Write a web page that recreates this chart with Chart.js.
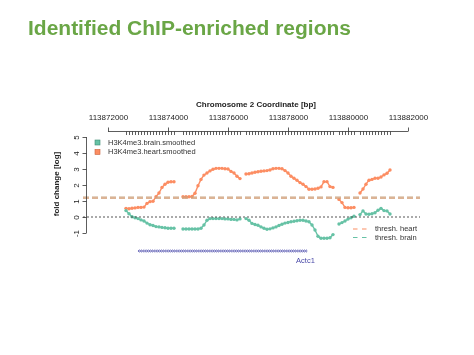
<!DOCTYPE html>
<html><head><meta charset="utf-8">
<script src="https://cdn.jsdelivr.net/npm/chart.js@4/dist/chart.umd.min.js"></script>
<style>html,body{margin:0;padding:0;background:#fff;}</style>
</head><body>
<canvas id="c" width="474" height="355"></canvas>
<script>
// ---- data ----
const chartTitle = "Identified ChIP-enriched regions";
const xAxisTitle = "Chromosome 2 Coordinate [bp]";
const yAxisTitle = "fold change [log]";
const xTicks = [113872000, 113874000, 113876000, 113878000, 113880000, 113882000];
const yTicks = [-1, 0, 1, 2, 3, 4, 5];
const seriesLabels = ["H3K4me3.brain.smoothed", "H3K4me3.heart.smoothed"];
const threshLabels = ["thresh. heart", "thresh. brain"];
const threshHeart = 1.2;
const threshBrain = 1.2;
const geneName = "Actc1";
const geneStart = 113873000;
const geneEnd = 113878650;

// probe positions (bp); null values mark breaks between enriched segments
const positions = [
  113872600,113872700,113872800,113872900,113873000,113873100,113873200,113873300,113873400,113873500,113873600,113873700,113873800,113873900,113874000,113874100,113874200,
  113874350,
  113874500,113874600,113874700,113874800,113874900,113875000,113875100,113875200,113875300,113875400,113875500,113875600,113875700,113875800,113875900,113876000,113876100,113876200,113876300,113876400,
  113876500,
  113876600,113876700,113876800,113876900,113877000,113877100,113877200,113877300,113877400,113877500,113877600,113877700,113877800,113877900,113878000,113878100,113878200,113878300,113878400,113878500,113878600,113878700,113878800,113878900,113879000,113879100,113879200,113879300,113879400,113879500,
  113879600,
  113879700,113879800,113879900,113880000,113880100,113880200,
  113880300,
  113880400,113880500,113880600,113880700,113880800,113880900,113881000,113881100,113881200,113881300,113881400
];
const heartValues = [
  0.54,0.52,0.55,0.57,0.6,0.6,0.62,0.85,0.96,0.98,1.27,1.5,1.85,2.05,2.17,2.2,2.2,
  null,
  1.27,1.27,1.27,1.28,1.48,1.95,2.35,2.62,2.75,2.88,2.98,3.04,3.04,3.04,3.02,3.0,2.85,2.75,2.55,2.4,
  null,
  2.69,2.7,2.75,2.8,2.83,2.86,2.88,2.9,2.94,3.02,3.04,3.04,3.02,2.9,2.75,2.55,2.42,2.3,2.15,2.05,1.9,1.73,1.73,1.75,1.8,1.88,2.21,2.21,1.9,1.85,
  null,
  1.1,0.9,0.6,0.58,0.58,0.6,
  null,
  1.5,1.75,2.05,2.3,2.35,2.42,2.42,2.5,2.63,2.73,2.94
];
const brainValues = [
  0.4,0.2,0.02,-0.05,-0.1,-0.18,-0.25,-0.38,-0.48,-0.53,-0.6,-0.62,-0.65,-0.67,-0.7,-0.7,-0.7,
  null,
  -0.75,-0.75,-0.75,-0.75,-0.75,-0.75,-0.7,-0.5,-0.2,-0.1,-0.1,-0.1,-0.1,-0.1,-0.12,-0.12,-0.15,-0.15,-0.18,-0.12,
  null,
  -0.1,-0.2,-0.4,-0.47,-0.52,-0.62,-0.7,-0.77,-0.74,-0.68,-0.62,-0.53,-0.45,-0.38,-0.34,-0.3,-0.27,-0.23,-0.2,-0.2,-0.25,-0.3,-0.5,-0.81,-1.2,-1.33,-1.33,-1.33,-1.3,-1.1,
  null,
  -0.44,-0.35,-0.25,-0.13,-0.05,0.05,
  null,
  0.15,0.38,0.19,0.17,0.2,0.27,0.42,0.54,0.4,0.38,0.19
];

// ---- styling ----
const COL_BRAIN = "#66C2A5";
const COL_HEART = "#FC8D62";
const X_MIN = 113871167, X_MAX = 113882400;
const Y_MIN = -1.75, Y_MAX = 5.5;

const toXY = vals => positions.map((p, i) => ({x: p, y: vals[i]}));
const flat = v => [{x: X_MIN, y: v}, {x: X_MAX, y: v}];

const deco = {
  id: 'deco',
  afterDraw(chart) {
    const ctx = chart.ctx, xs = chart.scales.x, ys = chart.scales.y;
    const FONT = '"Liberation Sans", Arial, sans-serif';
    ctx.save();
    // title
    ctx.fillStyle = '#6aa646';
    let fs = 21;
    ctx.font = 'bold ' + fs + 'px ' + FONT;
    const w = ctx.measureText(chartTitle).width;
    fs = fs * 323 / w;
    ctx.font = 'bold ' + fs.toFixed(2) + 'px ' + FONT;
    ctx.textAlign = 'left'; ctx.textBaseline = 'alphabetic';
    ctx.fillText(chartTitle, 28, 35);

    // top x axis
    const axY = 131.5;
    ctx.strokeStyle = '#333'; ctx.lineWidth = 0.8;
    ctx.beginPath();
    ctx.moveTo(xs.getPixelForValue(xTicks[0]), axY);
    ctx.lineTo(xs.getPixelForValue(xTicks[xTicks.length - 1]), axY);
    ctx.stroke();
    ctx.fillStyle = '#222';
    ctx.font = '8px ' + FONT;
    ctx.textAlign = 'center'; ctx.textBaseline = 'middle';
    xTicks.forEach(t => {
      const px = Math.round(xs.getPixelForValue(t)) + 0.5;
      ctx.beginPath(); ctx.moveTo(px, axY); ctx.lineTo(px, axY - 4); ctx.stroke();
      ctx.fillText(String(t), px, 118);
    });
    // rug of probe positions
    ctx.lineWidth = 0.8;
    positions.forEach((p, i) => {
      if (heartValues[i] === null) return;
      const px = Math.round(xs.getPixelForValue(p)) + 0.5;
      ctx.beginPath(); ctx.moveTo(px, axY); ctx.lineTo(px, axY + 3.5); ctx.stroke();
    });
    ctx.font = 'bold 8px ' + FONT;
    ctx.fillText(xAxisTitle, 256, 105);

    // left y axis
    const axX = 86.5;
    ctx.font = '8px ' + FONT;
    ctx.beginPath();
    ctx.moveTo(axX, ys.getPixelForValue(yTicks[0]));
    ctx.lineTo(axX, ys.getPixelForValue(yTicks[yTicks.length - 1]));
    ctx.stroke();
    yTicks.forEach(t => {
      const py = Math.round(ys.getPixelForValue(t)) + 0.5;
      ctx.beginPath(); ctx.moveTo(axX, py); ctx.lineTo(axX - 4, py); ctx.stroke();
      ctx.save(); ctx.translate(76.5, py); ctx.rotate(-Math.PI / 2);
      ctx.fillText(String(t), 0, 0); ctx.restore();
    });
    ctx.save(); ctx.translate(56.5, 184); ctx.rotate(-Math.PI / 2);
    ctx.font = 'bold 8px ' + FONT;
    ctx.fillText(yAxisTitle, 0, 0); ctx.restore();

    // top-left legend
    ctx.font = '7.5px ' + FONT;
    ctx.textAlign = 'left';
    const legCols = [COL_BRAIN, COL_HEART];
    const legBorders = ['#3d8a72', '#c8623c'];
    [142.5, 152].forEach((cy, i) => {
      ctx.fillStyle = legCols[i];
      ctx.fillRect(95, cy - 2.5, 5, 5);
      ctx.strokeStyle = legBorders[i]; ctx.lineWidth = 0.6;
      ctx.strokeRect(95, cy - 2.5, 5, 5);
      ctx.fillStyle = '#333';
      ctx.fillText(seriesLabels[i], 108, cy);
    });

    // bottom-right threshold legend
    const tCols = [COL_HEART, COL_BRAIN];
    [229, 237.5].forEach((cy, i) => {
      ctx.strokeStyle = tCols[i]; ctx.lineWidth = 1.2;
      ctx.beginPath();
      ctx.moveTo(353, cy); ctx.lineTo(357.5, cy);
      ctx.moveTo(362, cy); ctx.lineTo(366.5, cy);
      ctx.stroke();
      ctx.fillStyle = '#333';
      ctx.fillText(threshLabels[i], 375, cy);
    });

    // gene track
    const gx0 = xs.getPixelForValue(geneStart), gx1 = xs.getPixelForValue(geneEnd);
    const gy = 251;
    ctx.strokeStyle = '#5454b0'; ctx.lineWidth = 0.7;
    ctx.beginPath(); ctx.moveTo(gx0, gy); ctx.lineTo(gx1, gy); ctx.stroke();
    ctx.beginPath();
    for (let x = gx0; x < gx1 - 1; x += 2.2) {
      ctx.moveTo(x + 1.8, gy - 1.4); ctx.lineTo(x, gy); ctx.lineTo(x + 1.8, gy + 1.4);
    }
    ctx.stroke();
    ctx.fillStyle = '#4a4aa8';
    ctx.font = '7.5px ' + FONT;
    ctx.textAlign = 'center';
    ctx.fillText(geneName, gx1 - 2, 260.5);
    ctx.restore();
  }
};

new Chart(document.getElementById('c'), {
  type: 'line',
  data: {
    datasets: [
      {label: 'zero', data: flat(0), borderColor: '#444', borderWidth: 0.9, borderDash: [2, 2], pointRadius: 0},
      {label: threshLabels[0], data: flat(threshHeart), borderColor: 'rgba(252,141,98,0.5)', borderWidth: 2.5, borderDash: [6, 3], pointRadius: 0},
      {label: threshLabels[1], data: flat(threshBrain), borderColor: 'rgba(140,190,165,0.6)', borderWidth: 2.5, borderDash: [6, 3], pointRadius: 0},
      {label: seriesLabels[0], data: toXY(brainValues), borderColor: COL_BRAIN, backgroundColor: COL_BRAIN, borderWidth: 1.4, pointRadius: 1.7, pointBorderWidth: 0, spanGaps: false},
      {label: seriesLabels[1], data: toXY(heartValues), borderColor: COL_HEART, backgroundColor: COL_HEART, borderWidth: 1.4, pointRadius: 1.7, pointBorderWidth: 0, spanGaps: false}
    ]
  },
  options: {
    responsive: false,
    animation: false,
    devicePixelRatio: 1,
    layout: {padding: {left: 83, right: 54, top: 129, bottom: 110}},
    scales: {
      x: {type: 'linear', min: X_MIN, max: X_MAX, display: false},
      y: {type: 'linear', min: Y_MIN, max: Y_MAX, display: false}
    },
    plugins: {legend: {display: false}, tooltip: {enabled: false}, title: {display: false}}
  },
  plugins: [deco]
});
</script>
</body></html>
